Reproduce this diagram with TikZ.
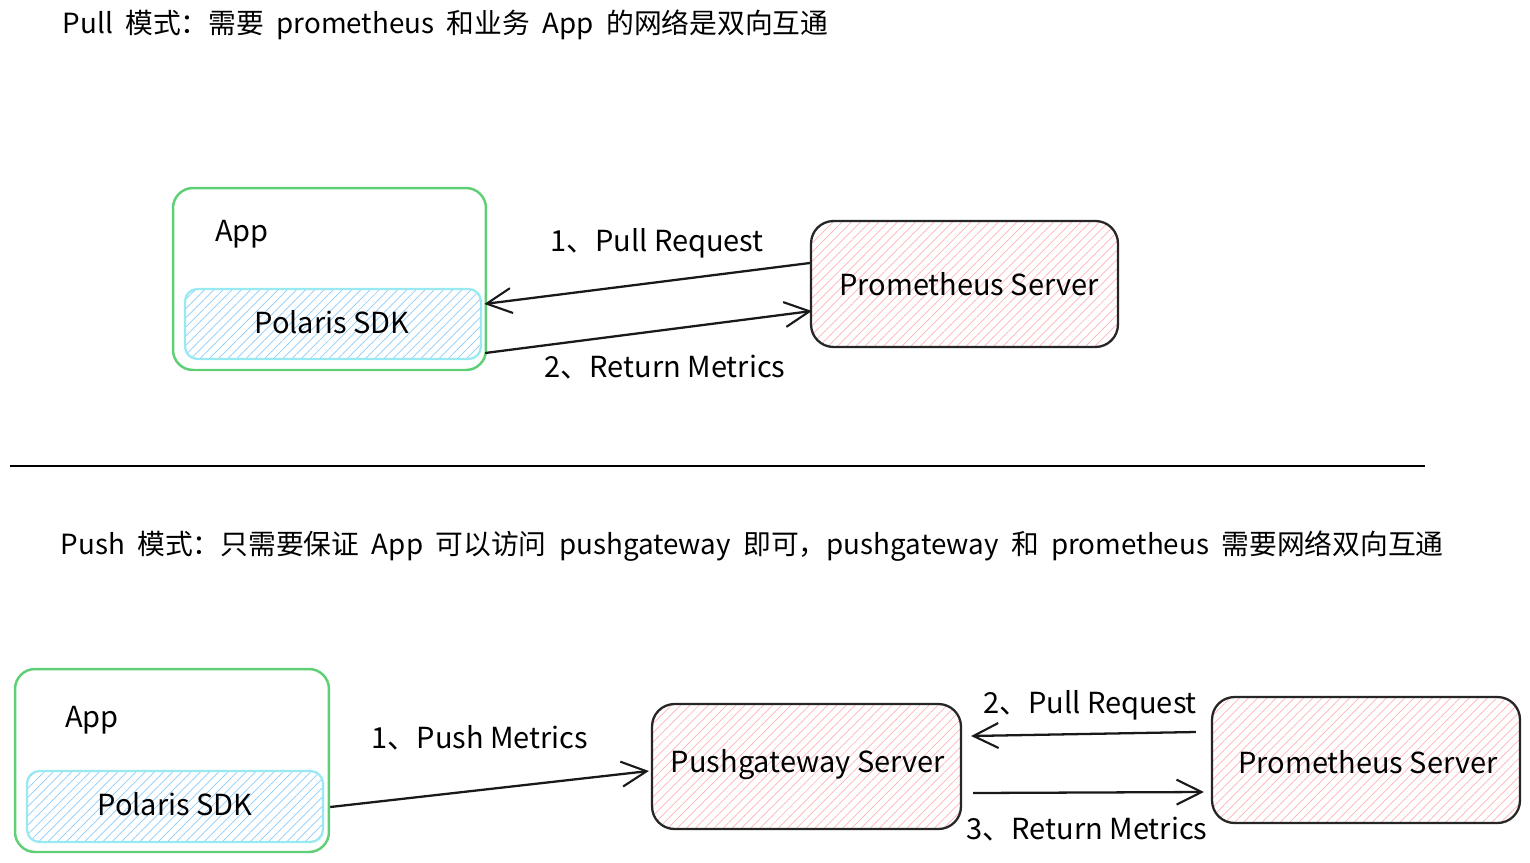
\documentclass[tikz,border=0pt]{standalone}
\usepackage{fontspec}
\setmainfont{Noto Sans CJK SC}
\usetikzlibrary{patterns.meta,arrows.meta,calc}
\definecolor{appgreen}{HTML}{5FCF76}
\definecolor{sdkcyan}{HTML}{99E9F2}
\definecolor{sdkblue}{HTML}{8CCBFA}
\definecolor{srvred}{HTML}{FFB3B3}
\begin{document}
\begin{tikzpicture}[x=0.02cm, y=-0.02cm, thick,
    appbox/.style={draw=appgreen, line width=1.4pt, rounded corners=0.4cm},
    sdkbox/.style={draw=sdkcyan, line width=1.3pt, rounded corners=0.25cm,
        pattern={Lines[angle=45,distance=1.3mm,line width=0.4pt]}, pattern color=sdkblue},
    srvbox/.style={draw=black!85, line width=1.3pt, rounded corners=0.45cm,
        pattern={Lines[angle=45,distance=1.3mm,line width=0.4pt]}, pattern color=srvred},
    txt/.style={font=\fontsize{16.5pt}{18pt}\selectfont, anchor=center},
    title/.style={font=\fontsize{15.8pt}{18pt}\selectfont, anchor=west, inner sep=0pt},
    link/.style={draw=black!90, line width=1.3pt, -{Straight Barb[length=5mm,width=5mm,line width=1.2pt]}}]
    \useasboundingbox (0,0) rectangle (1530,862);

    \node[title] (titleA) at (62,25) {Pull~~模式：需要~~prometheus~~和业务~~App~~的网络是双向互通};

    \node[appbox, minimum width=6.26cm, minimum height=3.64cm] (appA) at (329.5,279) {};
    \node[sdkbox, minimum width=5.92cm, minimum height=1.40cm] (sdkA) at (333,324) {};
    \node[txt] (appAtxt) at (242,234) {App};
    \node[txt] (sdkAtxt) at (332,322) {Polaris SDK};
    \node[srvbox, minimum width=6.14cm, minimum height=2.52cm] (promA) at (964.5,284) {};
    \node[txt] (promAtxt) at (969,284) {Prometheus Server};

    \draw[link] ($(promA.west)+(0,-21)$) -- ($(sdkA.east)+(3,-20)$);
    \draw[link] ($(appA.east)+(-2,74)$) -- ($(promA.west)+(2,27)$);
    \node[txt] (pullA) at (657,243) {1、Pull Request};
    \node[txt] (retA) at (665,367) {2、Return Metrics};

    \draw[line width=1pt] (10,466) -- (1425,466);

    \node[title] (titleB) at (60,546) {Push~~模式：只需要保证~~App~~可以访问~~pushgateway~~即可，pushgateway~~和~~prometheus~~需要网络双向互通};

    \node[appbox, minimum width=6.28cm, minimum height=3.66cm] (appB) at (172,760.5) {};
    \node[sdkbox, minimum width=5.92cm, minimum height=1.42cm] (sdkB) at (175,806.5) {};
    \node[txt] (appBtxt) at (92,720) {App};
    \node[txt] (sdkBtxt) at (175,804) {Polaris SDK};
    \node[srvbox, minimum width=6.18cm, minimum height=2.5cm] (pushB) at (806.5,766.5) {};
    \node[txt] (pushBtxt) at (808,765) {Pushgateway Server};
    \node[srvbox, minimum width=6.16cm, minimum height=2.52cm] (promB) at (1366,760) {};
    \node[txt] (promBtxt) at (1368,762) {Prometheus Server};

    \draw[link] ($(appB.east)+(0,46.5)$) -- ($(pushB.west)+(-2,4.5)$);
    \draw[link] ($(promB.west)+(-15,-28)$) -- ($(pushB.east)+(9,-30.5)$);
    \draw[link] ($(pushB.east)+(11,26.5)$) -- ($(promB.west)+(-7,32)$);
    \node[txt] (pushBlbl) at (480,738) {1、Push Metrics};
    \node[txt] (pullB) at (1090,705) {2、Pull Request};
    \node[txt] (retB) at (1087,829) {3、Return Metrics};
\end{tikzpicture}
\end{document}
